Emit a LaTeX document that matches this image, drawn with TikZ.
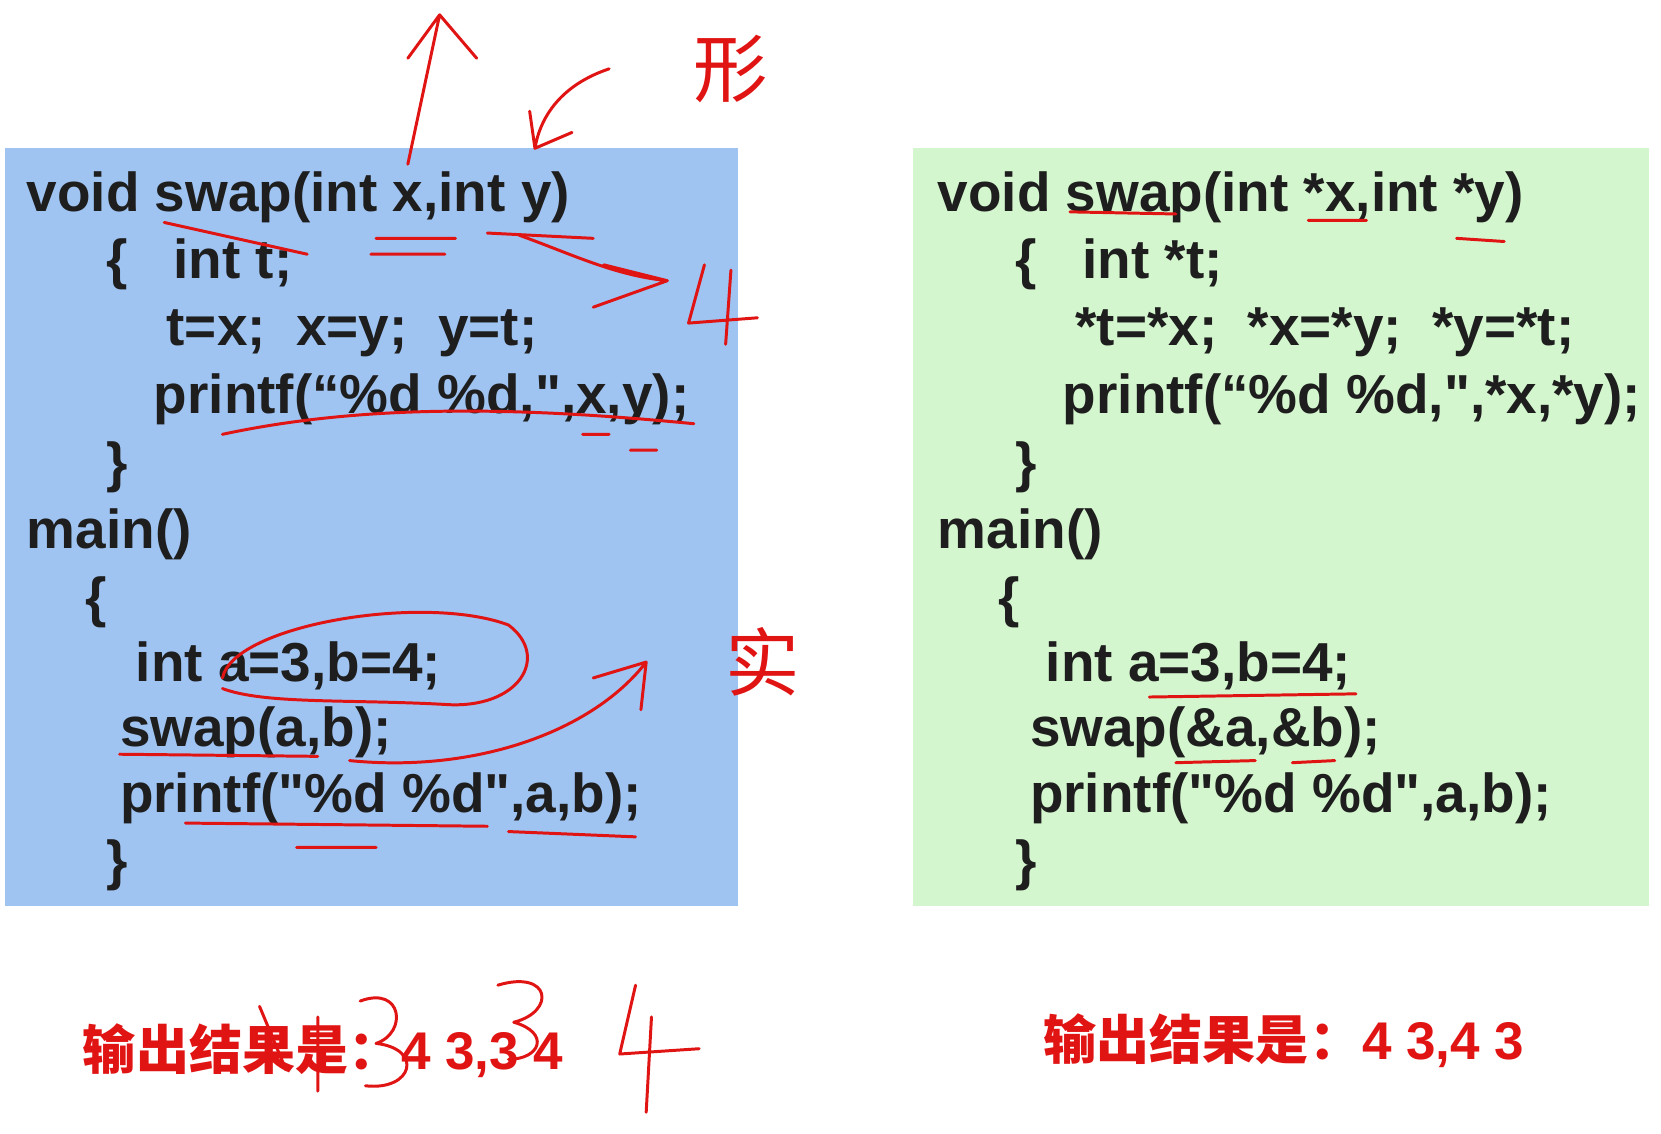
\documentclass[tikz,border=0pt]{standalone}
\usepackage{fontspec}
\setmainfont{Liberation Sans}
\newfontfamily\codefont{Liberation Sans}
\newfontfamily\cjk{Noto Sans CJK SC}
\usetikzlibrary{arrows.meta}
\definecolor{panelblue}{RGB}{160, 196, 242}
\definecolor{panelgreen}{RGB}{212, 246, 206}
\definecolor{inkred}{RGB}{225, 20, 20}
\definecolor{codeblack}{RGB}{30, 30, 30}

\begin{document}
\begin{tikzpicture}[
    x=0.02cm, y=-0.02cm,
    % Styles
    code/.style={anchor=base west, inner sep=0pt, font=\codefont\fontsize{29.5}{34}\selectfont\bfseries, text=codeblack},
    result/.style={anchor=base west, inner sep=0pt, text=inkred, font=\fontsize{28.5}{32}\selectfont\bfseries},
    ink/.style={draw=inkred, line width=1.6pt, line cap=round, line join=round},
    inktext/.style={inner sep=0pt, text=inkred, font=\cjk\fontsize{40}{44}\selectfont}
]
    \useasboundingbox[fill=white] (0,0) rectangle (1568,1070);

    % --- 1. Panels ---
    \fill[panelblue] (5,140) rectangle (697,855);
    \fill[panelgreen] (862,140) rectangle (1557,855);

    % --- 2. Left code (call by value) ---
    \node[code] (l1) at (25,200) {void swap(int x,int y)};
    \node[code] (l2) at (100,263) {\{\ \ \ int t;};
    \node[code] (l3) at (157,326) {t=x;\ \ x=y;\ \ y=t;};
    \node[code] (l4) at (145,390) {printf(“\%d \%d,",x,y);};
    \node[code] (l5) at (100,455) {\}};
    \node[code] (l6) at (25,518) {main()};
    \node[code] (l7) at (80,582) {\{};
    \node[code] (l8) at (128,643) {int a=3,b=4;};
    \node[code] (l9) at (113,705) {swap(a,b);};
    \node[code] (l10) at (113,767) {printf("\%d \%d",a,b);};
    \node[code] (l11) at (100,830) {\}};

    % --- 3. Right code (call by pointer) ---
    \node[code] (r1) at (885,200) {void swap(int *x,int *y)};
    \node[code] (r2) at (958,263) {\{\ \ \ int *t;};
    \node[code] (r3) at (1015,326) {*t=*x;\ \ *x=*y;\ \ *y=*t;};
    \node[code] (r4) at (1003,390) {printf(“\%d \%d,",*x,*y);};
    \node[code] (r5) at (958,455) {\}};
    \node[code] (r6) at (885,518) {main()};
    \node[code] (r7) at (942,582) {\{};
    \node[code] (r8) at (987,643) {int a=3,b=4;};
    \node[code] (r9) at (972,705) {swap(\&a,\&b);};
    \node[code] (r10) at (972,767) {printf("\%d \%d",a,b);};
    \node[code] (r11) at (958,830) {\}};

    % --- 4. Results ---
    \node[result] (resl) at (78,1010) {{\cjk 输出结果是：}4 3,3 4};
    \node[result] (resr) at (985,1000) {{\cjk 输出结果是：}4 3,4 3};

    % --- 5. Handwritten marks ---
    \draw[ink] (385,155) -- (415,14) (385,55) -- (415,14) -- (450,55);
    \draw[ink] (575,65) .. controls (530,80) and (510,110) .. (505,140)
               (500,105) -- (505,140) -- (540,125);
    \node[inktext] (xing) at (690,65) {形};
    \draw[ink] (665,250) -- (650,305) -- (715,300) (690,255) -- (685,325);
    \node[inktext] (shi) at (720,625) {实};
    \draw[ink] (245,950) -- (270,1010) (300,960) -- (300,1030);
    \draw[ink] (340,945) .. controls (380,930) and (385,975) .. (355,985)
               .. controls (400,990) and (390,1030) .. (345,1025);
    \draw[ink] (470,930) .. controls (520,915) and (525,955) .. (485,965)
               .. controls (520,975) and (510,1000) .. (480,1000);
    \draw[ink] (600,930) -- (585,995) -- (660,990) (615,960) -- (610,1050);
    \draw[ink] (155,210) -- (290,240) (355,225) -- (430,225) (350,240) -- (420,240)
               (460,220) -- (560,225);
    \draw[ink] (490,222) .. controls (540,240) and (580,260) .. (630,265)
               (560,290) -- (630,265) -- (570,250);
    \draw[ink] (210,410) .. controls (350,380) and (500,385) .. (655,400)
               (550,410) -- (575,410) (595,425) -- (620,425);
    \draw[ink] (210,640) .. controls (220,590) and (400,560) .. (480,590)
               .. controls (520,620) and (490,670) .. (420,665)
               .. controls (330,660) and (250,665) .. (210,650);
    \draw[ink] (113,712) -- (300,714) (330,718) .. controls (450,730) and (560,690) .. (610,625)
               (560,640) -- (610,625) -- (605,670);
    \draw[ink] (175,777) -- (460,780) (480,785) -- (600,790) (280,800) -- (355,800);
    \draw[ink] (1010,200) -- (1110,202) (1235,208) -- (1290,208) (1375,225) -- (1420,228);
    \draw[ink] (1085,658) -- (1280,655) (1110,720) -- (1185,718) (1220,720) -- (1260,718);
\end{tikzpicture}
\end{document}
